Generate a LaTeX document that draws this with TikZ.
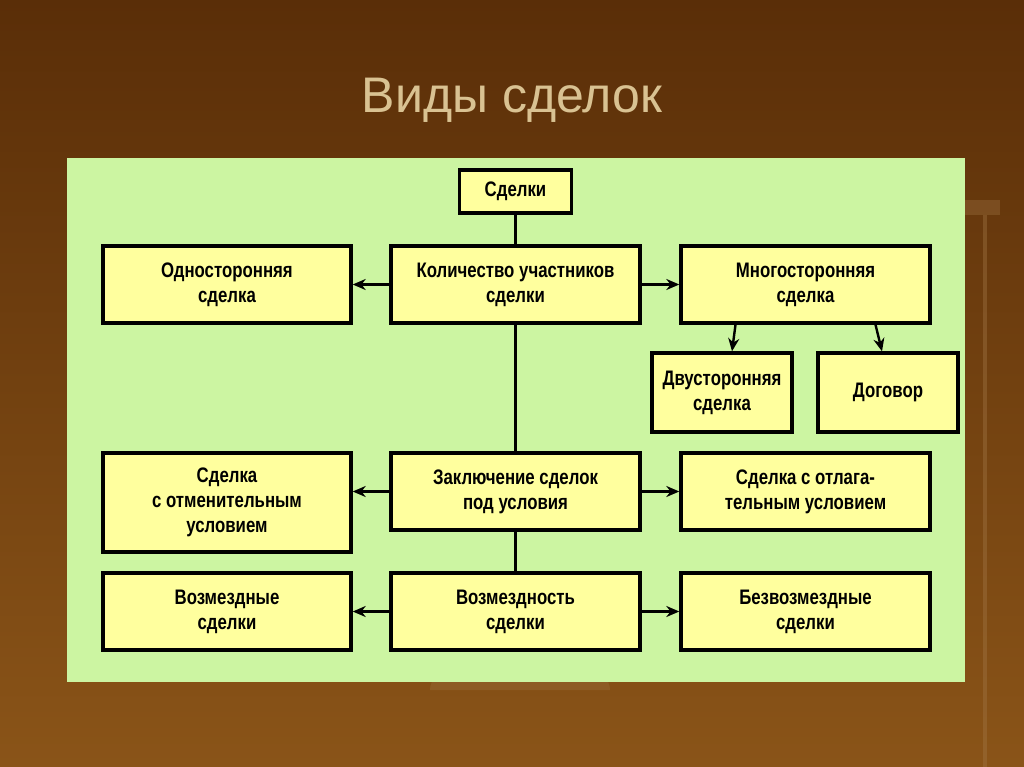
\documentclass[tikz,border=0pt]{standalone}
\usepackage{fontspec}
\setmainfont{Liberation Sans}
\newfontfamily\boxfont[FakeStretch=0.8]{Liberation Sans}
\usetikzlibrary{arrows.meta}
\definecolor{bgtop}{HTML}{5A2E08}
\definecolor{bgbot}{HTML}{8A5418}
\definecolor{panel}{HTML}{CCF5A2}
\definecolor{boxfill}{HTML}{FFFF9E}
\definecolor{titlecol}{HTML}{D9C292}
\tikzset{
  kind/.style={draw=black, line width=3.4pt, fill=boxfill, align=center,
    inner sep=2pt, font=\boxfont\bfseries\fontsize{21}{25}\selectfont},
  link/.style={line width=2.4pt},
  arr/.style={line width=2.4pt, -{Stealth[length=13pt,width=11pt]}}
}
\begin{document}
\begin{tikzpicture}[x=1pt,y=-1pt]
  \useasboundingbox (0,0) rectangle (1024,767);
  \shade[top color=bgtop, bottom color=bgbot] (0,0) rectangle (1024,767);
  % faint scales in the background
  \fill[bgbot!80!white, opacity=0.35] (965,200) rectangle (1000,215);
  \draw[bgbot!80!white, opacity=0.4, line width=4pt] (985,215) -- (985,767);
  \fill[bgbot!80!white, opacity=0.3] (430,690) arc (180:360:90 and 40) -- cycle;
  \node[text=titlecol, font=\fontsize{50}{54}\selectfont] (title) at (512,100) {Виды сделок};
  \fill[panel] (67,158) rectangle (965,682);
  % boxes
  \node[kind, minimum width=112pt, minimum height=43pt] (root) at (515.5,191.5) {Сделки};
  \node[kind, minimum width=248pt, minimum height=77pt] (one) at (227,284.5) {Односторонняя\\сделка};
  \node[kind, minimum width=249pt, minimum height=77pt] (count) at (515.5,284.5) {Количество участников\\сделки};
  \node[kind, minimum width=249pt, minimum height=77pt] (multi) at (805.5,284.5) {Многосторонняя\\сделка};
  \node[kind, minimum width=140pt, minimum height=79pt] (two) at (722,392.5) {Двусторонняя\\сделка};
  \node[kind, minimum width=140pt, minimum height=79pt] (deal) at (888,392.5) {Договор};
  \node[kind, minimum width=248pt, minimum height=99pt] (cancel) at (227,502.5) {Сделка\\с отменительным\\условием};
  \node[kind, minimum width=249pt, minimum height=77pt] (cond) at (515.5,491.5) {Заключение сделок\\под условия};
  \node[kind, minimum width=249pt, minimum height=77pt] (delay) at (805.5,491.5) {Сделка с отлага-\\тельным условием};
  \node[kind, minimum width=248pt, minimum height=77pt] (paid) at (227,611.5) {Возмездные\\сделки};
  \node[kind, minimum width=249pt, minimum height=77pt] (pay) at (515.5,611.5) {Возмездность\\сделки};
  \node[kind, minimum width=249pt, minimum height=77pt] (free) at (805.5,611.5) {Безвозмездные\\сделки};
  % connectors
  \draw[link] (root.south) -- (count.north);
  \draw[link] (count.south) -- (cond.north);
  \draw[link] (cond.south) -- (pay.north);
  \draw[arr] (count.west) -- (one.east);
  \draw[arr] (count.east) -- (multi.west);
  \draw[arr] (cond.west) -- (cancel.east |- cond.west);
  \draw[arr] (cond.east) -- (delay.west);
  \draw[arr] (pay.west) -- (paid.east);
  \draw[arr] (pay.east) -- (free.west);
  \draw[arr] ([xshift=-70pt]multi.south) -- ([xshift=10pt]two.north);
  \draw[arr] ([xshift=70pt]multi.south) -- ([xshift=-6pt]deal.north);
\end{tikzpicture}
\end{document}
